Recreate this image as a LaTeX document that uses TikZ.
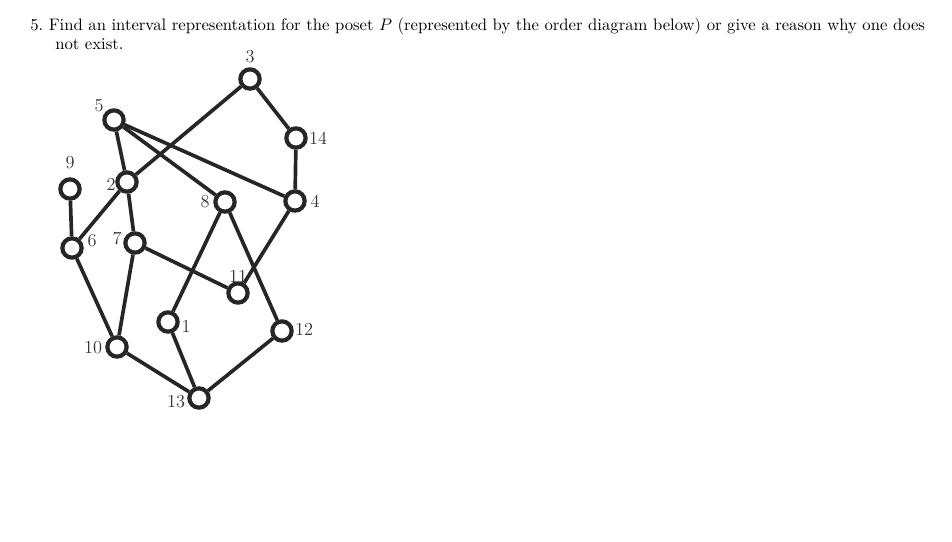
\documentclass[tikz,border=0pt]{standalone}
\begin{document}
\begin{tikzpicture}[x=0.6pt,y=-0.6pt,
  vtx/.style={circle,draw=black!85,fill=white,line width=2.5pt,minimum size=11.6pt,inner sep=0pt},
  edge/.style={draw=black!85,line width=2.2pt},
  lbl/.style={inner sep=0pt,font=\fontsize{11}{13}\selectfont,text=black!80},
  qtext/.style={inner sep=0pt,anchor=base west,font=\fontsize{10}{12}\selectfont}]
\useasboundingbox (0,0) rectangle (952,541);
\node[qtext] (q1) at (30,31) {5.\ Find an interval representation for the poset $P$ (represented by the order diagram below) or give a reason why one does};
\node[qtext] (q2) at (55,50) {not exist.};
% vertices
\node[vtx] (n3) at (250,79) {};
\node[vtx] (n5) at (114,120) {};
\node[vtx] (n14) at (296,138) {};
\node[vtx] (n9) at (70,189) {};
\node[vtx] (n2) at (127,182) {};
\node[vtx] (n8) at (225,202) {};
\node[vtx] (n4) at (295,201) {};
\node[vtx] (n6) at (72,248) {};
\node[vtx] (n7) at (135,243) {};
\node[vtx] (n11) at (238,293) {};
\node[vtx] (n1) at (168,322) {};
\node[vtx] (n12) at (282,331) {};
\node[vtx] (n10) at (117,347) {};
\node[vtx] (n13) at (199,398) {};
% edges
\path[edge] (n3) -- (n14);
\path[edge] (n3) -- (n2);
\path[edge] (n5) -- (n2);
\path[edge] (n5) -- (n8);
\path[edge] (n5) -- (n4);
\path[edge] (n14) -- (n4);
\path[edge] (n9) -- (n6);
\path[edge] (n2) -- (n6);
\path[edge] (n2) -- (n7);
\path[edge] (n8) -- (n1);
\path[edge] (n8) -- (n12);
\path[edge] (n4) -- (n11);
\path[edge] (n6) -- (n10);
\path[edge] (n7) -- (n10);
\path[edge] (n7) -- (n11);
\path[edge] (n1) -- (n13);
\path[edge] (n10) -- (n13);
\path[edge] (n12) -- (n13);
% labels
\node[lbl] (l3) at (250,57) {3};
\node[lbl] (l5) at (99,106) {5};
\node[lbl] (l14) at (318,138) {14};
\node[lbl] (l9) at (70,163) {9};
\node[lbl] (l2) at (111,184) {2};
\node[lbl] (l8) at (205,202) {8};
\node[lbl] (l4) at (315,201) {4};
\node[lbl] (l6) at (92,241) {6};
\node[lbl] (l7) at (117,238) {7};
\node[lbl] (l11) at (238,276) {11};
\node[lbl] (l1) at (186,326) {1};
\node[lbl] (l12) at (304,329) {12};
\node[lbl] (l10) at (93,348) {10};
\node[lbl] (l13) at (176,402) {13};
\end{tikzpicture}
\end{document}
